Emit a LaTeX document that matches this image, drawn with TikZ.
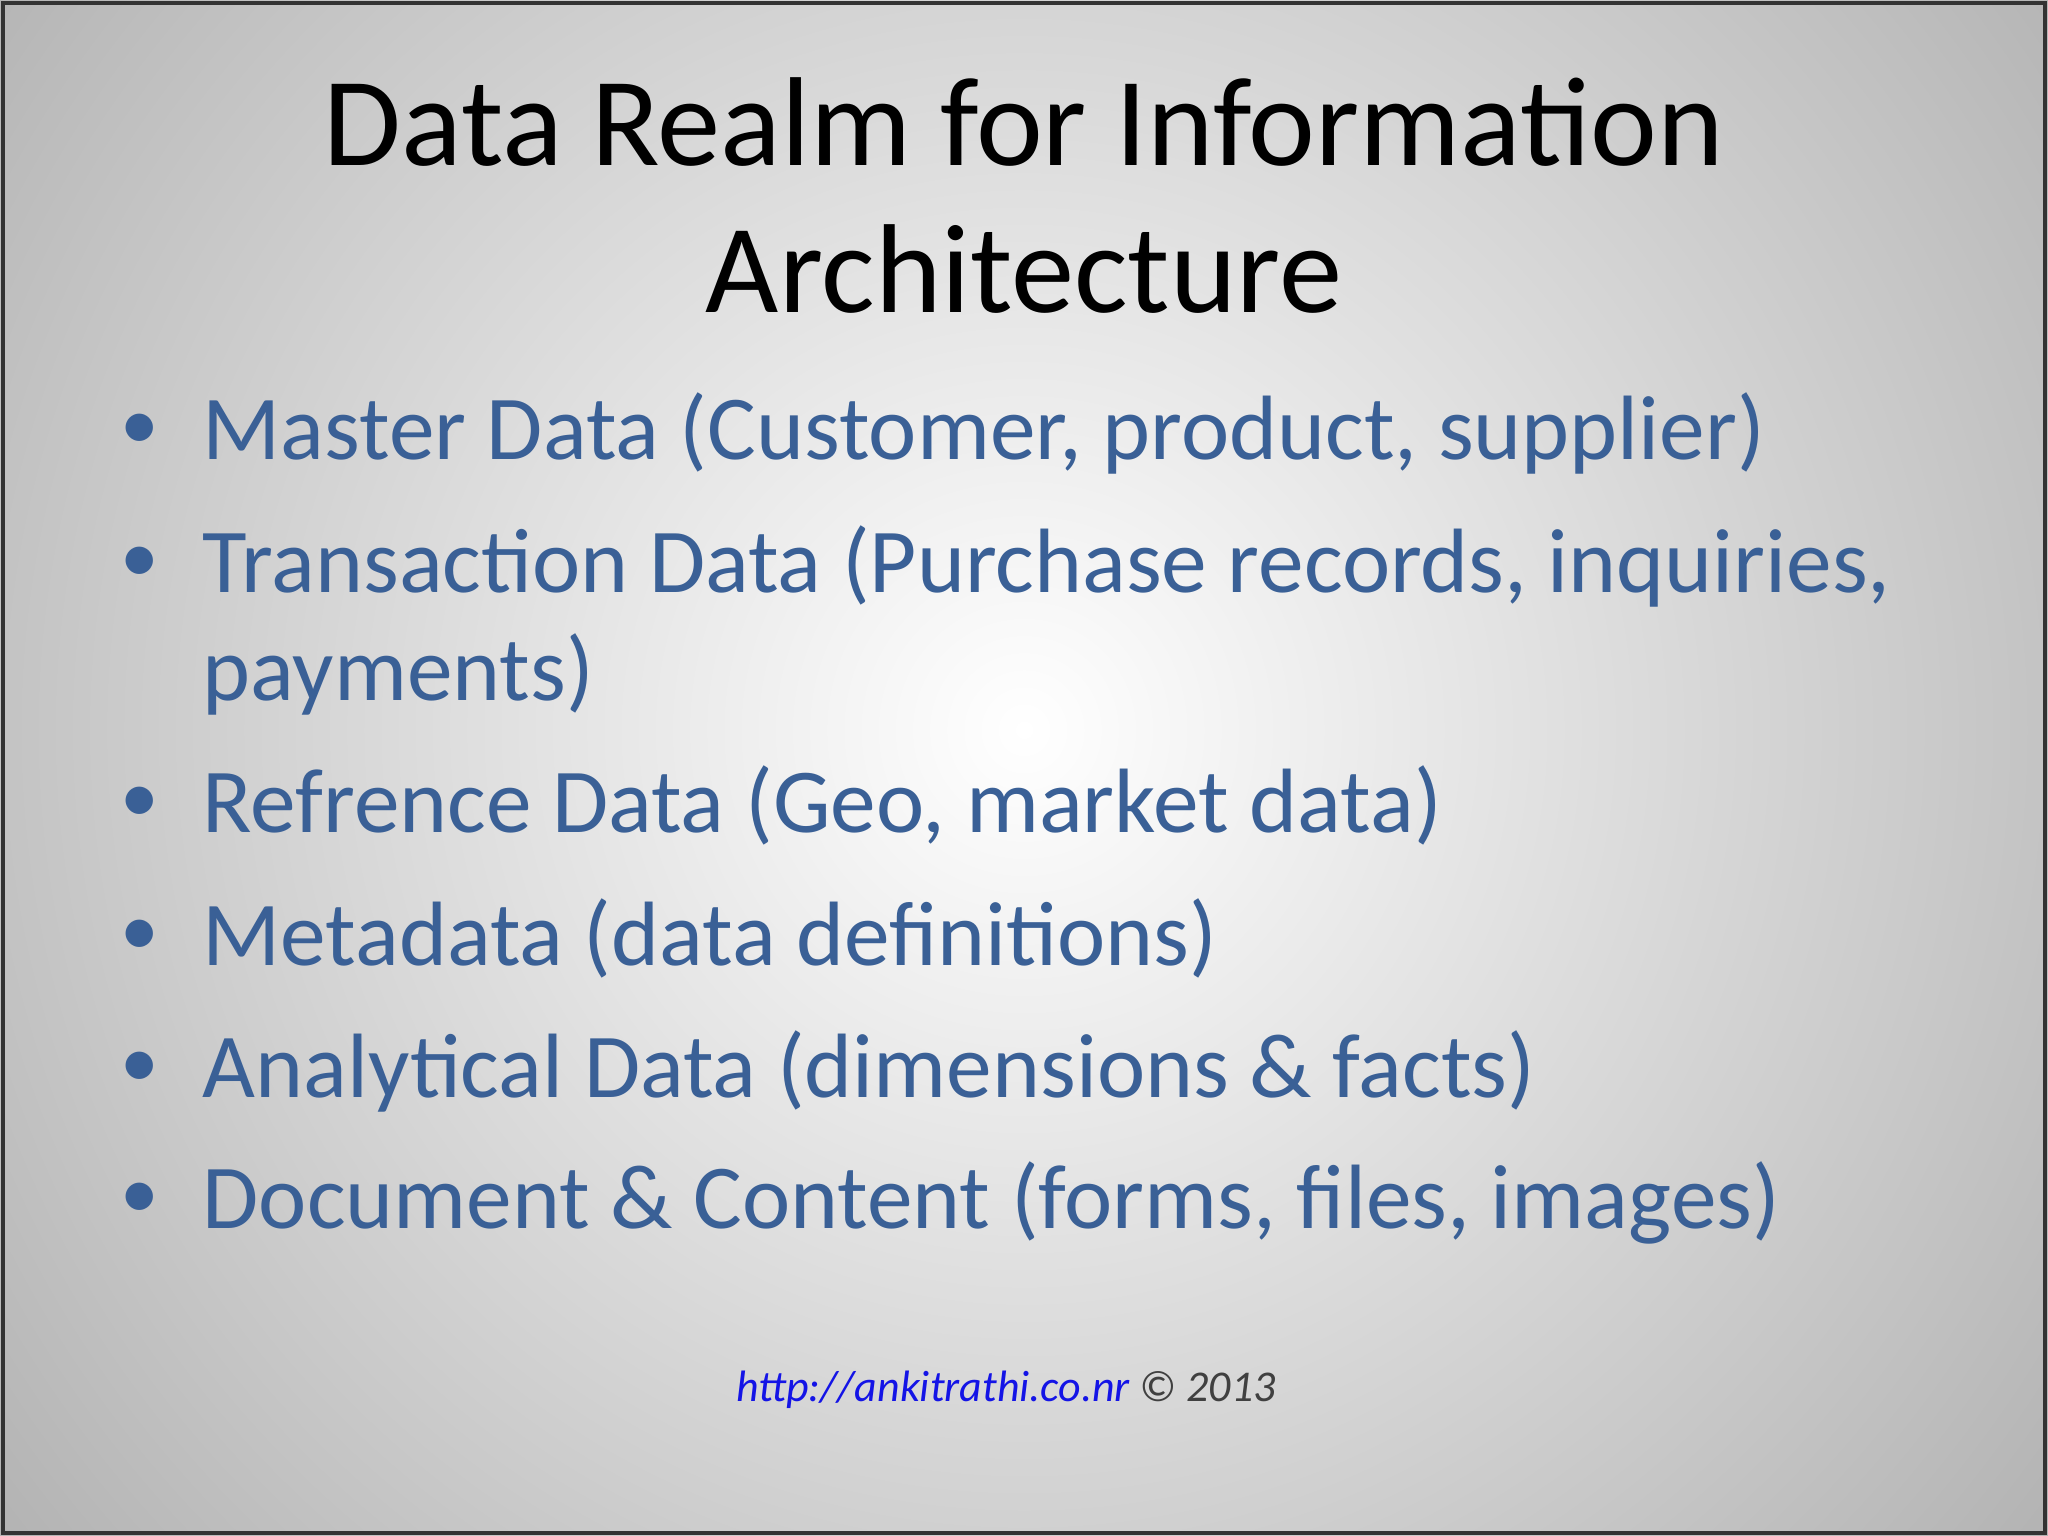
\documentclass[tikz,border=0pt]{standalone}
\usepackage{fontspec}
\setmainfont{Carlito}
\definecolor{bul}{RGB}{58,96,150}
\definecolor{lnk}{RGB}{20,20,230}
\definecolor{edge}{RGB}{150,150,150}
\begin{document}
\begin{tikzpicture}[x=1cm,y=-1cm,
  item/.style={anchor=base west,inner sep=0pt,text=bul,font=\fontsize{26}{32}\selectfont},
  dot/.style={anchor=base,inner sep=0pt,text=bul,font=\fontsize{22}{26}\selectfont},
  ttl/.style={anchor=base,inner sep=0pt,font=\fontsize{36}{44}\selectfont}]
\useasboundingbox (0,0) rectangle (20.48,15.36);
\begin{scope}
\clip (0,0) rectangle (20.48,15.36);
\shade[inner color=white,outer color=edge] (10.24,7.3) circle (18);
\end{scope}
\draw[black!80,line width=1pt] (0.03,0.03) rectangle (20.45,15.33);
\node[ttl] (t1) at (10.24,1.66) {Data Realm for Information};
\node[ttl] (t2) at (10.24,3.13) {Architecture};
\foreach \y/\t [count=\i] in {4.60/{Master Data (Customer, product, supplier)},
  5.93/{Transaction Data (Purchase records, inquiries,},
  8.32/{Refrence Data (Geo, market data)},
  9.65/{Metadata (data definitions)},
  10.97/{Analytical Data (dimensions \& facts)},
  12.28/{Document \& Content (forms, files, images)}}{
  \node[dot] (b\i) at (1.40,\y-0.1) {•};
  \node[item] (i\i) at (2.02,\y) {\t};
}
\node[item] (i2b) at (2.02,7.01) {payments)};
\node[anchor=base,inner sep=0pt,font=\fontsize{12.5}{15}\selectfont\itshape] (f) at (10.06,14.01)
  {\textcolor{lnk}{http://ankitrathi.co.nr} \textcolor{black!75}{© 2013}};
\end{tikzpicture}
\end{document}
